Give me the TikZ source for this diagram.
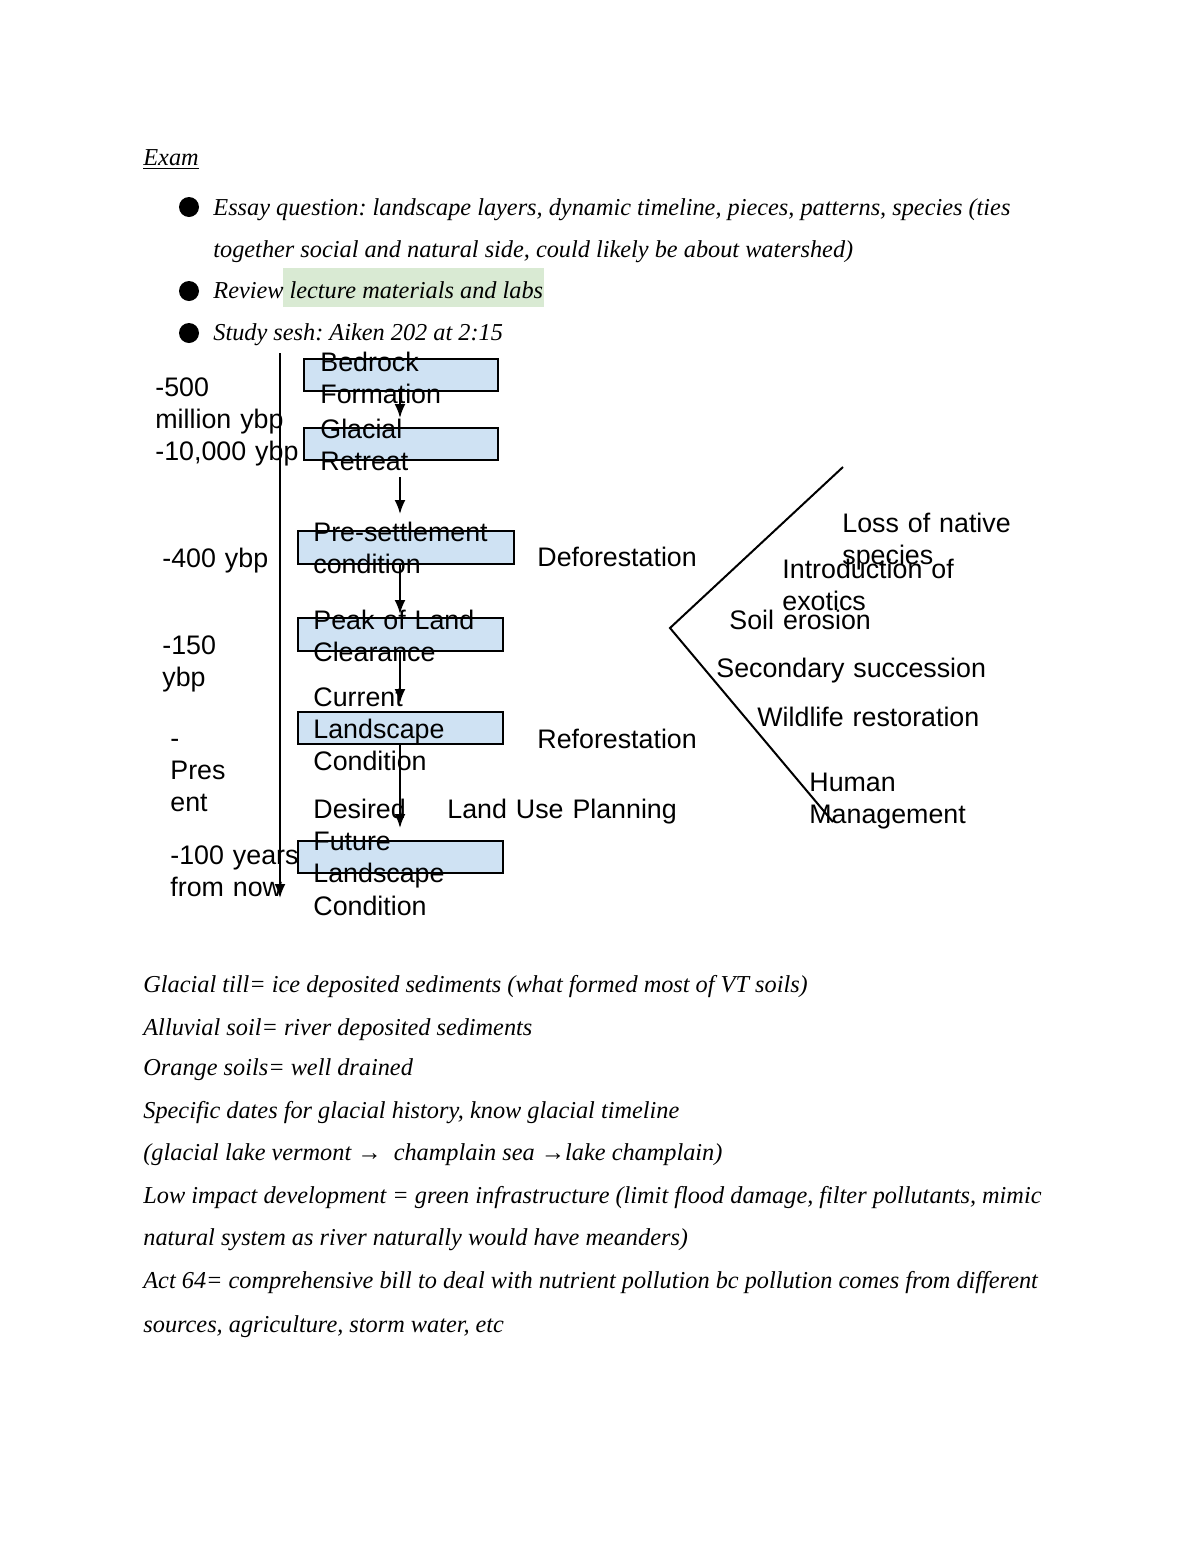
\documentclass[tikz,border=0pt]{standalone}
\usepackage{fontspec}
\setmainfont{Liberation Sans}
\newfontfamily\hand{Liberation Serif}
\usetikzlibrary{arrows.meta,calc}
\definecolor{boxblue}{HTML}{CFE2F3}
\definecolor{hlgreen}{HTML}{D9EAD3}
\frenchspacing
\tikzset{
  lbl/.style={font=\fontsize{13.4}{16.2}\selectfont, inner sep=0pt, anchor=base west, text width=160pt, align=left},
  hw/.style={font=\hand\itshape\fontsize{12.15}{14}\selectfont, inner sep=0pt, anchor=base west},
  stagebox/.style={draw, line width=1pt, fill=boxblue, inner sep=0pt},
  arr/.style={line width=1pt, -{Latex[length=7pt,width=5.5pt]}},
  bul/.style={circle, fill=black, inner sep=0pt, minimum size=10pt},
}
\begin{document}
\begin{tikzpicture}[x=0.5pt,y=-0.5pt]
\useasboundingbox[fill=white] (0,0) rectangle (1200,1553);

% ---- handwritten header ----
\fill[hlgreen] (283,268) rectangle (544,307);
\node[hw] (exam) at (143,165) {\underline{Exam}};
\node[bul] (b1d) at (189,207) {};
\node[bul] (b2d) at (189,291) {};
\node[bul] (b3d) at (189,333) {};
\node[hw] (t1) at (213,215) {Essay question: landscape layers, dynamic timeline, pieces, patterns, species (ties};
\node[hw] (t2) at (213,257) {together social and natural side, could likely be about watershed)};
\node[hw] (t3) at (213,298) {Review lecture materials and labs};
\node[hw] (t4) at (213,340) {Study sesh: Aiken 202 at 2:15};

% ---- timeline ----
\coordinate (tl0) at (280,353);
\coordinate (tl1) at (280,898);
\draw[arr] (tl0) -- (tl1);

\node[lbl] (d1) at (155,396) {-500\\million ybp\\-10,000 ybp};
\node[lbl] (d2) at (162,567) {-400 ybp};
\node[lbl] (d3) at (162,654) {-150\\ybp};
\node[lbl] (d4) at (170,747) {-\\Pres\\ent};
\node[lbl] (d5) at (170,864) {-100 years\\from now};

% ---- stage boxes ----
\node[stagebox, minimum width=97pt, minimum height=16pt] (s1) at (401,375) {};
\node[stagebox, minimum width=97pt, minimum height=16pt] (s2) at (401,444) {};
\node[stagebox, minimum width=108pt, minimum height=16.5pt] (s3) at (406,547.5) {};
\node[stagebox, minimum width=102.5pt, minimum height=16.5pt] (s4) at (400.5,634.5) {};
\node[stagebox, minimum width=102.5pt, minimum height=16pt] (s5) at (400.5,728) {};
\node[stagebox, minimum width=102.5pt, minimum height=16pt] (s6) at (400.5,857) {};

\node[lbl] (s1t) at (320,371) {Bedrock\\Formation};
\node[lbl] (s2t) at (320,438) {Glacial\\Retreat};
\node[lbl] (s3t) at (313,541) {Pre-settlement\\condition};
\node[lbl] (s4t) at (313,629) {Peak of Land\\Clearance};
\node[lbl] (s5t) at (313,706) {Current\\Landscape\\Condition};
\node[lbl] (s6t) at (313,818) {Desired\\Future\\Landscape\\Condition};

\coordinate (ax) at (400,0);
\draw[arr] (s1.south -| ax) -- ([yshift=4.5pt]s2.north -| ax);
\draw[arr, shorten <=8pt] (s2.south -| ax) -- ([yshift=8pt]s3.north -| ax);
\draw[arr] (s3.south -| ax) -- ([yshift=1.5pt]s4.north -| ax);
\draw[arr] (s4.south -| ax) -- ([yshift=4pt]s5.north -| ax);
\draw[arr] (s5.south -| ax) -- ([yshift=6pt]s6.north -| ax);

% ---- middle labels ----
\node[lbl] (defo) at (537,566) {Deforestation};
\node[lbl] (refo) at (537,748) {Reforestation};
\node[lbl] (lup) at (447,818) {Land Use Planning};

% ---- V shape and effects ----
\coordinate (v1) at (843,467);
\coordinate (v2) at (670,628);
\coordinate (v3) at (833,822);
\draw[line width=1pt] (v1) -- (v2) -- (v3);

\node[lbl] (e1) at (842,532) {Loss of native\\species};
\node[lbl] (e2) at (782,578) {Introduction of\\exotics};
\node[lbl] (e3) at (729,629) {Soil erosion};
\node[lbl] (e4) at (716,677) {Secondary succession};
\node[lbl] (e5) at (757,726) {Wildlife restoration};
\node[lbl] (e6) at (809,791) {Human\\Management};

% ---- handwritten notes ----
\node[hw] (n1) at (143,992) {Glacial till= ice deposited sediments (what formed most of VT soils)};
\node[hw] (n2) at (143,1035) {Alluvial soil= river deposited sediments};
\node[hw] (n3) at (143,1075) {Orange soils= well drained};
\node[hw] (n4) at (143,1118) {Specific dates for glacial history, know glacial timeline};
\node[hw] (n5) at (143,1160) {(glacial lake vermont \char"2192{}\ \ champlain sea \char"2192 lake champlain)};
\node[hw] (n6) at (143,1203) {Low impact development = green infrastructure (limit flood damage, filter pollutants, mimic};
\node[hw] (n7) at (143,1245) {natural system as river naturally would have meanders)};
\node[hw] (n8) at (143,1288) {Act 64= comprehensive bill to deal with nutrient pollution bc pollution comes from different};
\node[hw] (n9) at (143,1332) {sources, agriculture, storm water, etc};
\end{tikzpicture}
\end{document}
